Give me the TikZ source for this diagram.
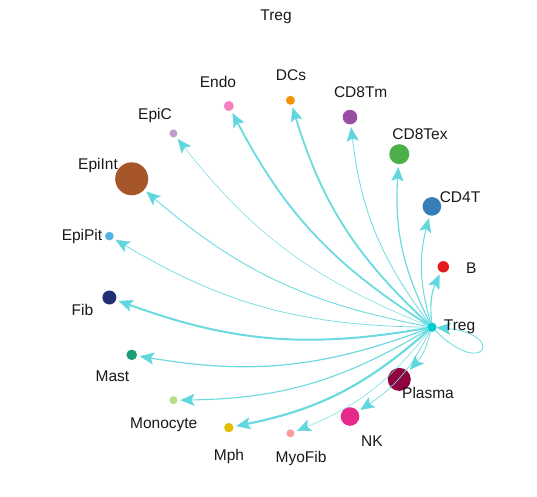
\documentclass[tikz,border=0pt]{standalone}
\usepackage{fontspec}
\setmainfont{Liberation Sans}
\usepackage{xcolor}
\usepackage{tikz}
\usetikzlibrary{arrows.meta}
\definecolor{cB}{HTML}{E41A1C}
\definecolor{cCDfour}{HTML}{377EB8}
\definecolor{cCDtex}{HTML}{4DAF4A}
\definecolor{cCDtm}{HTML}{984EA3}
\definecolor{cDC}{HTML}{F29403}
\definecolor{cEndo}{HTML}{F781BF}
\definecolor{cEpiC}{HTML}{BC9DCC}
\definecolor{cEpiInt}{HTML}{A65628}
\definecolor{cEpiPit}{HTML}{54B0E4}
\definecolor{cFib}{HTML}{222F75}
\definecolor{cMast}{HTML}{1B9E77}
\definecolor{cMono}{HTML}{B2DF8A}
\definecolor{cMph}{HTML}{E3BE00}
\definecolor{cMyo}{HTML}{FB9A99}
\definecolor{cNK}{HTML}{E7298A}
\definecolor{cPlasma}{HTML}{910241}
\definecolor{cTreg}{HTML}{00CDD1}
\definecolor{edge}{RGB}{108, 219, 224}
\definecolor{tip}{RGB}{96, 214, 222}

\begin{document}
\begin{tikzpicture}[
    x=1pt, y=1pt,
    every node/.style={align=center},
    cell/.style={circle, inner sep=0pt, outer sep=3pt},
    lbl/.style={font=\fontsize{15.5}{18}\selectfont, text=black!90},
    link/.style={draw=edge, -{Stealth[length=14pt, width=12pt, inset=3pt, line width=0.3pt, fill=tip, color=tip]}}
]
    \path[fill=white, use as bounding box] (0,0) rectangle (537,496);

    % Title
    \node[lbl] (title) at (276,479) {Treg};

    % Cell groups on the circle
    \node[cell, fill=cB, minimum size=11.4pt] (B) at (443.3,229.2) {};
    \node[cell, fill=cCDfour, minimum size=18.6pt] (CDfour) at (431.9,289.6) {};
    \node[cell, fill=cCDtex, minimum size=20pt] (CDtex) at (399.3,341.8) {};
    \node[cell, fill=cCDtm, minimum size=14.6pt] (CDtm) at (350.0,378.9) {};
    \node[cell, fill=cDC, minimum size=9pt] (DCs) at (290.4,395.7) {};
    \node[cell, fill=cEndo, minimum size=10pt] (Endo) at (228.8,390.0) {};
    \node[cell, fill=cEpiC, minimum size=8pt] (EpiC) at (173.4,362.6) {};
    \node[cell, fill=cEpiInt, minimum size=33pt] (EpiInt) at (131.7,317.2) {};
    \node[cell, fill=cEpiPit, minimum size=8.6pt] (EpiPit) at (109.4,259.9) {};
    \node[cell, fill=cFib, minimum size=14pt] (Fib) at (109.4,198.5) {};
    \node[cell, fill=cMast, minimum size=10.6pt] (Mast) at (131.7,141.2) {};
    \node[cell, fill=cMono, minimum size=8pt] (Mono) at (173.4,95.8) {};
    \node[cell, fill=cMph, minimum size=9.4pt] (Mph) at (228.8,68.4) {};
    \node[cell, fill=cMyo, minimum size=8pt] (Myo) at (290.4,62.7) {};
    \node[cell, fill=cNK, minimum size=18.6pt] (NK) at (350.0,79.5) {};
    \node[cell, fill=cPlasma, minimum size=23pt] (Plasma) at (399.3,116.6) {};
    \node[cell, fill=cTreg, minimum size=9.4pt, outer sep=0pt] (Treg) at (431.9,168.8) {};

    % Outgoing signals from Treg
    \draw[link, line width=1.2pt] (Treg) to[bend left=15] (B);
    \draw[link, line width=1pt] (Treg) to[bend left=15] (CDfour);
    \draw[link, line width=1.2pt] (Treg) to[bend left=15] (CDtex);
    \draw[link, line width=0.8pt] (Treg) to[bend left=15] (CDtm);
    \draw[link, line width=1.8pt] (Treg) to[bend left=15] (DCs);
    \draw[link, line width=1.8pt] (Treg) to[bend left=15] (Endo);
    \draw[link, line width=0.5pt] (Treg) to[bend left=15] (EpiC);
    \draw[link, line width=0.9pt] (Treg) to[bend left=15] (EpiInt);
    \draw[link, line width=0.7pt] (Treg) to[bend left=15] (EpiPit);
    \draw[link, line width=2pt] (Treg) to[bend left=15] (Fib);
    \draw[link, line width=1.2pt] (Treg) to[bend left=15] (Mast);
    \draw[link, line width=1.1pt] (Treg) to[bend left=15] (Mono);
    \draw[link, line width=2.2pt] (Treg) to[bend left=15] (Mph);
    \draw[link, line width=0.5pt] (Treg) to[bend left=15] (Myo);
    \draw[link, line width=0.7pt] (Treg) to[bend left=15] (NK);
    \draw[link, line width=0.7pt] (Treg) to[bend left=15] (Plasma);

    % Self loop
    \draw[link, line width=0.8pt] (Treg) to[out=-45, in=-5, distance=70pt] (Treg);

    % Labels
    \node[lbl] (lB) at (471.3,228) {B};
    \node[lbl] (lCDfour) at (460,299) {CD4T};
    \node[lbl] (lCDtex) at (420,362) {CD8Tex};
    \node[lbl] (lCDtm) at (360.7,404) {CD8Tm};
    \node[lbl] (lDCs) at (291,420.5) {DCs};
    \node[lbl] (lEndo) at (218,414) {Endo};
    \node[lbl] (lEpiC) at (155,381) {EpiC};
    \node[lbl] (lEpiInt) at (98,331) {EpiInt};
    \node[lbl] (lEpiPit) at (82,260) {EpiPit};
    \node[lbl] (lFib) at (82.5,186) {Fib};
    \node[lbl] (lMast) at (112.5,119.3) {Mast};
    \node[lbl] (lMono) at (163.7,71) {Monocyte};
    \node[lbl] (lMph) at (229,39.3) {Mph};
    \node[lbl] (lMyo) at (301,38) {MyoFib};
    \node[lbl] (lNK) at (372,55) {NK};
    \node[lbl] (lPlasma) at (428,103) {Plasma};
    \node[lbl] (lTreg) at (459.5,169) {Treg};
\end{tikzpicture}
\end{document}
